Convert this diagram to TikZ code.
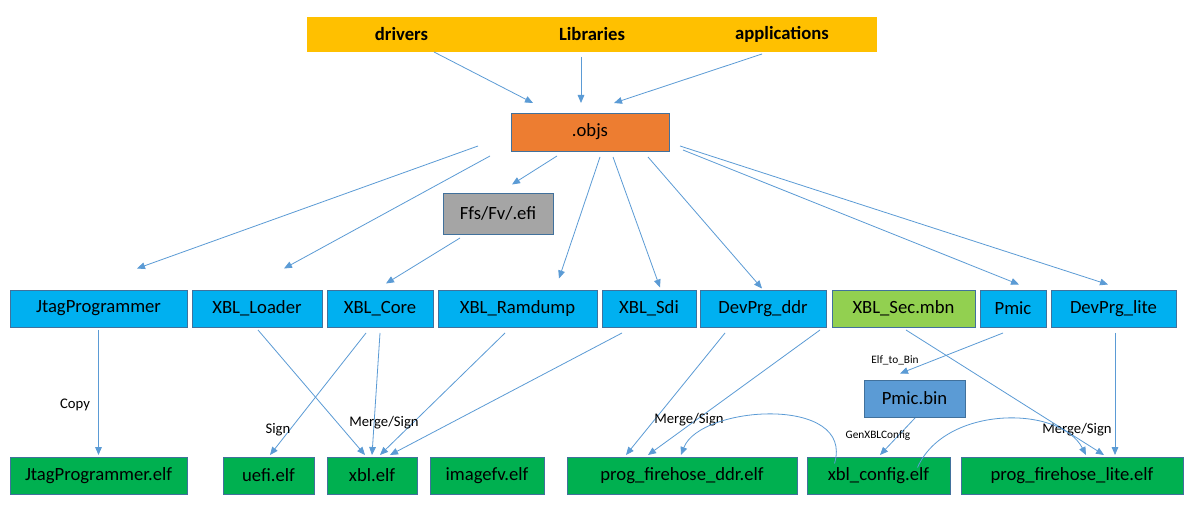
\documentclass[tikz,border=0pt]{standalone}
\usepackage{fontspec}
\setmainfont{Carlito}
\usetikzlibrary{arrows.meta}
\definecolor{ybox}{HTML}{FFC000}
\definecolor{obox}{HTML}{ED7D31}
\definecolor{gbox}{HTML}{A5A5A5}
\definecolor{bbox}{HTML}{00B0F0}
\definecolor{lgbox}{HTML}{92D050}
\definecolor{pbox}{HTML}{5B9BD5}
\definecolor{dgbox}{HTML}{00B050}
\definecolor{edge}{HTML}{5B9BD5}
\definecolor{bord}{HTML}{41719C}
\begin{document}
\begin{tikzpicture}[x=0.75pt,y=-0.75pt,
 box/.style={draw=bord,line width=0.6pt,inner sep=0pt,font=\fontsize{14}{16}\selectfont},
 top/.style={fill=ybox,draw=none,inner sep=0pt,minimum height=35*0.75pt,minimum width=190*0.75pt,font=\bfseries\fontsize{14}{16}\selectfont},
 arr/.style={draw=edge,line width=0.6pt,-{Triangle[length=6pt,width=5pt]}},
 lab/.style={font=\fontsize{11}{13}\selectfont},
 slab/.style={font=\fontsize{8.5}{10}\selectfont}]
\useasboundingbox (0,0) rectangle (1190,506);
\fill[white] (0,0) rectangle (1190,506);
\node[top] (drv) at (401.5,34.5) {drivers};
\node[top] (lib) at (592,34.5) {Libraries};
\node[top] (app) at (782,34.5) {applications};
\node[box,fill=obox,minimum width=158*0.75pt,minimum height=38*0.75pt] (objs) at (590,132) {.objs};
\node[box,fill=gbox,minimum width=110*0.75pt,minimum height=41*0.75pt] (ffs) at (498,213.5) {Ffs/Fv/.efi};
\tikzset{r2/.style={box,fill=bbox,minimum height=37*0.75pt}}
\node[r2,minimum width=177*0.75pt] (jtag) at (98.5,308.5) {JtagProgrammer};
\node[r2,minimum width=130*0.75pt] (ldr) at (257,308.5) {XBL\_Loader};
\node[r2,minimum width=106*0.75pt] (core) at (380,308.5) {XBL\_Core};
\node[r2,minimum width=159*0.75pt] (ram) at (517.5,308.5) {XBL\_Ramdump};
\node[r2,minimum width=94*0.75pt] (sdi) at (649,308.5) {XBL\_Sdi};
\node[r2,minimum width=126*0.75pt] (dddr) at (763,308.5) {DevPrg\_ddr};
\node[r2,fill=lgbox,minimum width=143*0.75pt] (sec) at (903.5,308.5) {XBL\_Sec.mbn};
\node[r2,minimum width=66*0.75pt] (pmic) at (1013,308.5) {Pmic};
\node[r2,minimum width=125*0.75pt] (dlite) at (1113.5,308.5) {DevPrg\_lite};
\node[box,fill=pbox,minimum width=101*0.75pt,minimum height=37*0.75pt] (pbin) at (914.5,398.5) {Pmic.bin};
\tikzset{r3/.style={box,fill=dgbox,minimum height=37*0.75pt}}
\node[r3,minimum width=177*0.75pt] (jelf) at (98.5,475.5) {JtagProgrammer.elf};
\node[r3,minimum width=91*0.75pt] (uefi) at (268.5,475.5) {uefi.elf};
\node[r3,minimum width=90*0.75pt] (xbl) at (372,475.5) {xbl.elf};
\node[r3,minimum width=114*0.75pt] (ifv) at (487,475.5) {imagefv.elf};
\node[r3,minimum width=230*0.75pt] (pddr) at (682,475.5) {prog\_firehose\_ddr.elf};
\node[r3,minimum width=143*0.75pt] (cfg) at (878.5,475.5) {xbl\_config.elf};
\node[r3,minimum width=222*0.75pt] (plite) at (1072,475.5) {prog\_firehose\_lite.elf};
% top -> objs
\draw[arr] ([shift={(32.5,17.5)}]drv.center) -- ([shift={(-57,-29)}]objs.center);
\draw[arr] ([shift={(-11,23)}]lib.center) -- ([shift={(-9,-29)}]objs.center);
\draw[arr] ([shift={(-20,19.5)}]app.center) -- ([shift={(24,-29)}]objs.center);
% objs -> row2
\draw[arr] ([shift={(-112,14)}]objs.center) -- ([shift={(38.5,-40)}]jtag.center);
\draw[arr] ([shift={(-100,24)}]objs.center) -- ([shift={(27,-40)}]ldr.center);
\draw[arr] ([shift={(-33,24)}]objs.center) -- ([shift={(14,-29)}]ffs.center);
\draw[arr] ([shift={(-38,24.5)}]ffs.center) -- ([shift={(6,-25)}]core.center);
\draw[arr] ([shift={(10,25)}]objs.center) -- ([shift={(41.5,-30)}]ram.center);
\draw[arr] ([shift={(23,25)}]objs.center) -- ([shift={(11,-21)}]sdi.center);
\draw[arr] ([shift={(58,25)}]objs.center) -- ([shift={(-1,-20)}]dddr.center);
\draw[arr] ([shift={(93,18)}]objs.center) -- ([shift={(6,-24)}]pmic.center);
\draw[arr] ([shift={(90,14)}]objs.center) -- ([shift={(-5.5,-24)}]dlite.center);
% row2 -> row3
\draw[arr] ([shift={(0,21.5)}]jtag.center) -- ([shift={(0,-20.5)}]jelf.center);
\node[lab] (copy) at (75,405) {Copy};
\draw[arr] ([shift={(1,21.5)}]ldr.center) -- ([shift={(-7,-20.5)}]xbl.center);
\draw[arr] ([shift={(-14,24.5)}]core.center) -- ([shift={(1.5,-20.5)}]uefi.center);
\node[lab] (sign) at (278,430) {Sign};
\draw[arr] ([shift={(0,24.5)}]core.center) -- ([shift={(0,-20.5)}]xbl.center);
\draw[arr] ([shift={(-12.5,24.5)}]ram.center) -- ([shift={(8,-20.5)}]xbl.center);
\draw[arr] ([shift={(-27,24.5)}]sdi.center) -- ([shift={(18,-20.5)}]xbl.center);
\node[lab] (ms1) at (384,423) {Merge/Sign};
\draw[arr] ([shift={(-38,24.5)}]dddr.center) -- ([shift={(-56,-20.5)}]pddr.center);
\draw[arr] ([shift={(-83.5,21.5)}]sec.center) -- ([shift={(-34,-20.5)}]pddr.center);
\node[lab] (ms2) at (689,420) {Merge/Sign};
\draw[arr] ([shift={(2.5,21.5)}]sec.center) -- ([shift={(32,-20.5)}]plite.center);
\draw[arr] ([shift={(-10,24.5)}]pmic.center) -- ([shift={(-14.5,-25)}]pbin.center);
\node[slab] (e2b) at (895,360) {Elf\_to\_Bin};
\draw[arr] ([shift={(0.5,19.5)}]pbin.center) -- ([shift={(1.5,-20.5)}]cfg.center);
\node[slab] (gxc) at (878,436) {GenXBLConfig};
\draw[arr] ([shift={(1.5,24.5)}]dlite.center) -- ([shift={(43,-20.5)}]plite.center);
\node[lab] (ms3) at (1077,430) {Merge/Sign};
\draw[arr] ([shift={(-44,-12)}]cfg.center) .. controls (855,395) and (700,405) .. ([shift={(-1,-20.5)}]pddr.center);
\draw[arr] ([shift={(39,-8)}]cfg.center) .. controls (945,405) and (1060,405) .. ([shift={(14,-20.5)}]plite.center);
\end{tikzpicture}
\end{document}
